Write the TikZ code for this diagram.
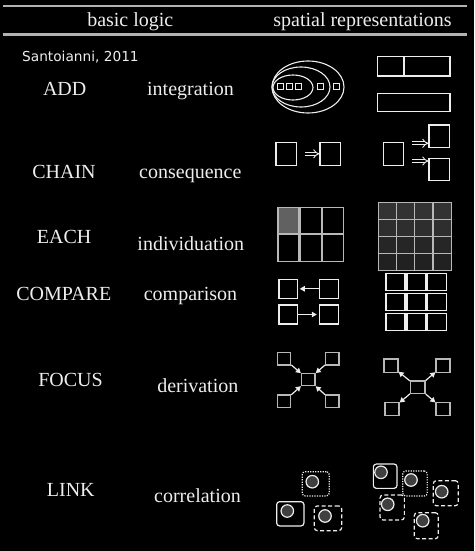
\documentclass[tikz,border=0pt]{standalone}
\usepackage{fontspec}
\setmainfont{Liberation Serif}
\newfontfamily\citefont{DejaVu Sans}
\usetikzlibrary{arrows.meta}
\definecolor{ink}{gray}{0.93}
\definecolor{rulegray}{gray}{0.7}
\definecolor{cellline}{gray}{0.72}

\begin{document}
\begin{tikzpicture}[x=1pt,y=-1pt,
    lbl/.style={text=ink,anchor=base,inner sep=0pt,font=\fontsize{20}{24}\selectfont},
    sq/.style={draw=ink,line width=1.2pt,inner sep=0pt,minimum width=#1,minimum height=#1},
    cell/.style={draw=cellline,line width=1.2pt,inner sep=0pt},
    tok/.style={draw=ink,line width=1.2pt,rounded corners=3pt,inner sep=0pt},
    dot/.style={circle,draw=ink,fill=black!75,line width=1.2pt,inner sep=0pt,minimum size=12.5pt},
    imp/.style={draw=ink,line width=0.9pt,double=black,double distance=2.2pt,-{Implies}},
    arr/.style={draw=ink,line width=1.2pt,-{Triangle[length=5pt,width=5.5pt]}}]
            \fill[black] (0,0) rectangle (474,551);
            \draw[rulegray,line width=2.5pt] (2.7,6.2) -- (466.7,6.2);
            \draw[rulegray,line width=2.5pt] (2.7,34.7) -- (466.7,34.7);
            \node (hlogic) at (130.3,26.7) [lbl] {basic logic};
            \node (hspace) at (362.5,26.7) [lbl] {spatial representations};
            \node (cite) at (22,61.7) [text=ink,anchor=base west,inner sep=0pt,font=\citefont\fontsize{13.7}{16}\selectfont] {Santoianni, 2011};
            \node (add) at (64.7,95.7) [lbl] {ADD};
            \node (integ) at (190.5,95.7) [lbl] {integration};
            \node (chain) at (64,178.3) [lbl] {CHAIN};
            \node (conseq) at (190.3,178.3) [lbl] {consequence};
            \node (each) at (64.2,243.3) [lbl] {EACH};
            \node (indiv) at (190.8,250) [lbl] {individuation};
            \node (compare) at (63.8,300.7) [lbl] {COMPARE};
            \node (compar) at (190.5,300.7) [lbl] {comparison};
            \node (focus) at (70.5,386) [lbl] {FOCUS};
            \node (deriv) at (197.8,392.3) [lbl] {derivation};
            \node (link) at (70.8,496.7) [lbl] {LINK};
            \node (correl) at (197.5,502.7) [lbl] {correlation};

            \draw[ink,line width=1.1pt] (308,87) ellipse [x radius=36,y radius=26];
            \draw[ink,line width=1.1pt] (301,87) ellipse [x radius=29,y radius=20];
            \draw[ink,line width=1.1pt] (293,87.5) ellipse [x radius=20,y radius=12.5];
            \foreach \x in {280,289,298,320,336}
                \node at (\x,86.5) [sq=6pt,line width=1pt] {};
            \node (bar1) at (413.8,66.3) [sq=1pt,minimum width=72.3pt,minimum height=19.3pt] {};
            \draw[ink,line width=1.2pt] (404,56.7) -- (404,76);
            \node (bar2) at (413.8,102.5) [sq=1pt,minimum width=72.3pt,minimum height=18.4pt] {};

            \node (a1) at (286.3,153.8) [sq=20.7pt,minimum height=23pt] {};
            \node (a2) at (330.3,153.8) [sq=20.7pt,minimum height=23pt] {};
            \draw[imp,shorten <=8pt] (a1) -- (a2);
            \node (b1) at (393.3,153.8) [sq=20pt,minimum height=23pt] {};
            \node (b2) at (439.2,136.2) [sq=20.3pt,minimum height=22.3pt] {};
            \node (b3) at (439.2,169.5) [sq=20.3pt,minimum height=22.3pt] {};
            \coordinate (b2in) at (412.3,143.3);
            \coordinate (b3in) at (412.3,161);
            \draw[imp] (b2in) -- (b2.west |- b2in);
            \draw[imp] (b3in) -- (b3.west |- b3in);

            \foreach \i in {0,1,2}
                \foreach \j in {0,1}
                    \node (e\i\j) at (288.4+22.2*\i,220.5+27.5*\j) [cell,minimum width=21pt,minimum height=26.3pt] {};
            \node (e00) at (288.4,220.5) [cell,fill=black!62,minimum width=21pt,minimum height=26.3pt] {};
            \foreach \i in {0,1,2,3}
                \foreach \j/\tone in {0/80,1/82,2/85,3/87}
                    \node (g\i\j) at (387.4+18.2*\i,210.8+17.1*\j) [cell,fill=black!\tone,minimum width=18.2pt,minimum height=17.1pt] {};

            \node (c1) at (288.3,288.8) [sq=18.7pt,minimum height=19pt] {};
            \node (c2) at (329.2,288.8) [sq=18.7pt,minimum height=19pt] {};
            \node (c3) at (288.3,314.5) [sq=18.7pt,minimum height=19pt] {};
            \node (c4) at (329.2,314.5) [sq=18.7pt,minimum height=19pt] {};
            \draw[arr,shorten >=1.5pt] (c2) -- (c1);
            \draw[arr,shorten >=2.5pt] (c3) -- (c4);
            \foreach \i in {0,1,2}
                \foreach \j in {0,1,2}
                    \node (h\i\j) at (395.5+20.9*\i,282+20*\j) [cell,draw=ink!90,minimum width=19pt,minimum height=17.5pt] {};

            \node (f0) at (308.3,379.5) [sq=13.3pt,minimum height=12.3pt,draw=cellline,line width=1.5pt] {};
            \node (f1) at (284,358.7) [sq=13.3pt,minimum height=12.7pt,draw=cellline] {};
            \node (f2) at (332.3,358.7) [sq=13.3pt,minimum height=12.7pt,draw=cellline] {};
            \node (f3) at (284,401.3) [sq=13.3pt,minimum height=12.7pt,draw=cellline] {};
            \node (f4) at (332.3,401.3) [sq=13.3pt,minimum height=12.7pt,draw=cellline] {};
            \draw[arr] (f1) -- (f0);
            \draw[arr] (f2) -- (f0);
            \draw[arr] (f3) -- (f0);
            \draw[arr] (f4) -- (f0);
            \node (d0) at (417.8,387.2) [sq=14.3pt,minimum height=12.3pt,draw=cellline,line width=1.5pt] {};
            \node (d1) at (391,365.7) [sq=14pt,minimum height=13.3pt,draw=cellline] {};
            \node (d2) at (443,365.7) [sq=14pt,minimum height=13.3pt,draw=cellline] {};
            \node (d3) at (392,409) [sq=14pt,minimum height=13.3pt,draw=cellline] {};
            \node (d4) at (443,409) [sq=14pt,minimum height=13.3pt,draw=cellline] {};
            \draw[arr] (d0) -- (d1);
            \draw[arr] (d0) -- (d2);
            \draw[arr] (d0) -- (d3);
            \draw[arr] (d0) -- (d4);

            \node (k1) at (315.8,483.8) [tok,dash pattern=on 1.2pt off 1.3pt,minimum width=27pt,minimum height=24.3pt] {};
            \node (k2) at (290.3,513.8) [tok,minimum width=27.3pt,minimum height=24.3pt] {};
            \node (k3) at (328,518.3) [tok,dash pattern=on 4pt off 2.5pt,minimum width=27.4pt,minimum height=24.7pt] {};
            \node (o1) at (312.3,481.7) [dot] {};
            \node (o2) at (287.3,511) [dot] {};
            \node (o3) at (325,516) [dot] {};
            \node (m1) at (385.2,476.2) [tok,minimum width=23.7pt,minimum height=24.3pt] {};
            \node (m2) at (415,483.5) [tok,dash pattern=on 1.2pt off 1.3pt,minimum width=24.6pt,minimum height=25pt] {};
            \node (m3) at (445.8,493.2) [tok,dash pattern=on 4pt off 2.5pt,minimum width=25pt,minimum height=25pt] {};
            \node (m4) at (392.2,507.5) [tok,dash pattern=on 4pt off 2.5pt,minimum width=24.3pt,minimum height=25pt] {};
            \node (m5) at (426.3,525.7) [tok,dash pattern=on 4pt off 2.5pt,minimum width=24pt,minimum height=26pt] {};
            \node (p1) at (381,472.3) [dot] {};
            \node (p2) at (411,480) [dot] {};
            \node (p3) at (441.7,491.7) [dot] {};
            \node (p4) at (387.7,504.3) [dot] {};
            \node (p5) at (422.7,520.7) [dot] {};
        \end{tikzpicture}
\end{document}
